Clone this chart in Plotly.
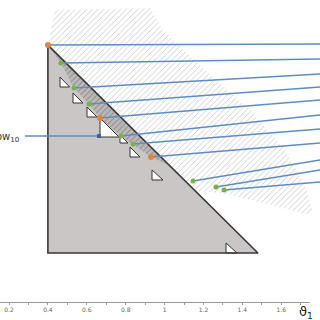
import plotly.graph_objects as go

# ---------------- data (theta_1 units; vertical coordinate in same units) ----------------
tri_x = [0.40, 0.40, 1.48, 0.40]
tri_y = [1.321, 0.252, 0.252, 1.321]

# hatched feasible region outside the triangle
hatch_x = [0.4365, 0.9249, 0.9918, 1.2077, 1.4391, 1.6190, 1.7219, 1.7630, 1.7476, 1.3209, 1.1563, 0.4005, 0.4365]
hatch_y = [1.5013, 1.5116, 1.3985, 1.1928, 0.9871, 0.7815, 0.6015, 0.4627, 0.4473, 0.5553, 0.5728, 1.3213, 1.5013]

# dark hatched band along the hypotenuse (inside triangle)
band_x = [0.40, 1.028, 0.930, 0.8375, 0.7758, 0.6679, 0.6113, 0.5342, 0.4673, 0.40]
band_y = [1.321, 0.700, 0.7455, 0.8123, 0.8535, 0.9460, 1.0180, 1.1003, 1.2288, 1.321]

# small white triangles: left x, top y, bottom y, right x
wt_left = [0.4622, 0.5291, 0.6010, 0.6679, 0.7707, 0.8221, 0.9352, 1.3157]
wt_top = [1.1568, 1.0746, 1.0026, 0.9460, 0.8586, 0.7969, 0.6787, 0.3033]
wt_bot = [1.1054, 1.0231, 0.9512, 0.8483, 0.8175, 0.7455, 0.6272, 0.2519]
wt_right = [0.5118, 0.5805, 0.6524, 0.7656, 0.8118, 0.8735, 0.9918, 1.3723]

# points and their rays to the right edge
pt_x = [0.4005, 0.4673, 0.5342, 0.6113, 0.6679, 0.7758, 0.8375, 0.9301, 1.1460, 1.2643, 1.3054]
pt_y = [1.3213, 1.2288, 1.1003, 1.0180, 0.9460, 0.8535, 0.8123, 0.7455, 0.6221, 0.5913, 0.5758]
pt_kind = ["o", "g", "g", "g", "o", "g", "g", "o", "g", "g", "g"]
ray_end_x = 1.799
ray_end_y = [1.3265, 1.2494, 1.1722, 1.1054, 1.0386, 0.9614, 0.8895, 0.8175, 0.7301, 0.6787, 0.6170]

# ow10 pointer
ow_x = [0.2823, 0.6627]
ow_y = [0.8535, 0.8535]

tick_vals = [0.2, 0.4, 0.6, 0.8, 1.0, 1.2, 1.4, 1.6]
tick_text = ["0.2", "0.4", "0.6", "0.8", "1", "1.2", "1.4", "1.6"]

# ---------------- figure ----------------
fig = go.Figure()

fig.add_trace(go.Scatter(
    x=hatch_x, y=hatch_y, mode="lines", fill="toself", line=dict(width=0),
    fillcolor="rgba(0,0,0,0)",
    fillpattern=dict(shape="/", fgcolor="#9d9791", bgcolor="rgba(255,255,255,0)", size=4, solidity=0.22),
    hoverinfo="skip", showlegend=False))

fig.add_trace(go.Scatter(
    x=tri_x, y=tri_y, mode="lines", fill="toself", fillcolor="#cac6c5",
    line=dict(width=0), hoverinfo="skip", showlegend=False))

fig.add_trace(go.Scatter(
    x=band_x, y=band_y, mode="lines", fill="toself", line=dict(width=0),
    fillcolor="#bdb9b8",
    fillpattern=dict(shape="/", fgcolor="#5e5a58", bgcolor="#bdb9b8", size=4, solidity=0.25),
    hoverinfo="skip", showlegend=False))

for l, t, b, r in zip(wt_left, wt_top, wt_bot, wt_right):
    fig.add_trace(go.Scatter(
        x=[l, l, r, l], y=[t, b, b, t], mode="lines", fill="toself", fillcolor="white",
        line=dict(color="#333333", width=1), hoverinfo="skip", showlegend=False))

fig.add_trace(go.Scatter(
    x=tri_x, y=tri_y, mode="lines", line=dict(color="#383838", width=1.6),
    hoverinfo="skip", showlegend=False))

for x0, y0, y1 in zip(pt_x, pt_y, ray_end_y):
    fig.add_trace(go.Scatter(
        x=[x0, ray_end_x], y=[y0, y1], mode="lines",
        line=dict(color="#5d8cc6", width=1.5), hoverinfo="skip", showlegend=False))

gx = [x for x, k in zip(pt_x, pt_kind) if k == "g"]
gy = [y for y, k in zip(pt_y, pt_kind) if k == "g"]
ox = [x for x, k in zip(pt_x, pt_kind) if k == "o"]
oy = [y for y, k in zip(pt_y, pt_kind) if k == "o"]
fig.add_trace(go.Scatter(x=gx, y=gy, mode="markers",
                         marker=dict(color="#78b24a", size=5), hoverinfo="skip", showlegend=False))
fig.add_trace(go.Scatter(x=ox, y=oy, mode="markers",
                         marker=dict(color="#e2843c", size=6), hoverinfo="skip", showlegend=False))

fig.add_trace(go.Scatter(x=ow_x, y=ow_y, mode="lines",
                         line=dict(color="#5d8cc6", width=1.5), hoverinfo="skip", showlegend=False))
fig.add_trace(go.Scatter(x=[ow_x[1]], y=[ow_y[1]], mode="markers",
                         marker=dict(color="#3d5f9a", size=4, symbol="square"),
                         hoverinfo="skip", showlegend=False))

# invisible trace to carry the visible theta axis
fig.add_trace(go.Scatter(x=tick_vals, y=[0] * len(tick_vals), xaxis="x2", yaxis="y",
                         mode="markers", marker=dict(opacity=0), hoverinfo="skip", showlegend=False))

fig.add_annotation(x=0.2617, y=0.8483, xref="x", yref="y", text="ow<sub>10</sub>",
                   showarrow=False, xanchor="right", yanchor="middle",
                   font=dict(family="DejaVu Sans", size=10, color="#333333"))
fig.add_annotation(x=306 / 320, y=-0.035, xref="paper", yref="paper", text="ϑ<sub>1</sub>",
                   showarrow=False, xanchor="center", yanchor="middle",
                   font=dict(family="DejaVu Sans", size=13, color="#222222"))

fig.update_layout(
    width=320, height=320,
    margin=dict(l=0, r=0, t=0, b=18),
    paper_bgcolor="white", plot_bgcolor="rgba(0,0,0,0)",
    xaxis=dict(domain=[0, 1], range=[0.1537, 1.799], visible=False),
    yaxis=dict(domain=[0, 1], range=[0, 1.5527], visible=False),
    xaxis2=dict(domain=[0, 310 / 320], range=[0.1537, 1.7476], anchor="y",
                showline=True, linecolor="#9a9a9a", linewidth=1,
                ticks="outside", ticklen=2, tickcolor="#9a9a9a",
                tickvals=tick_vals, ticktext=tick_text,
                tickfont=dict(family="DejaVu Sans", size=6, color="#666666"),
                minor=dict(dtick=0.1, tick0=0, ticks="outside", ticklen=2, tickcolor="#9a9a9a"),
                showgrid=False, zeroline=False, fixedrange=True),
    showlegend=False,
)

fig.write_html("out.html")
